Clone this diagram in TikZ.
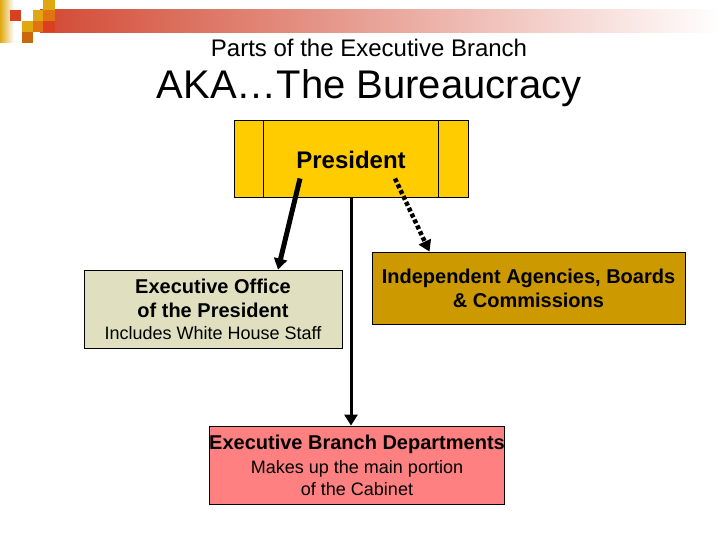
\documentclass[tikz,border=0pt]{standalone}
\usepackage{xcolor}
\usepackage{fontspec}
\setmainfont{Liberation Sans}
\usetikzlibrary{arrows.meta}
\definecolor{presgold}{HTML}{FFCC00}
\definecolor{eopkhaki}{HTML}{E0E0C0}
\definecolor{iabgold}{HTML}{CC9900}
\definecolor{ebdpink}{HTML}{FF8080}
\definecolor{barred}{HTML}{D24A34}
\definecolor{barpink}{HTML}{DC9A98}
\definecolor{sqred}{HTML}{D84020}
\definecolor{sqgold}{HTML}{E0A810}
\definecolor{sqorange}{HTML}{E07410}

\begin{document}
\begin{tikzpicture}[x=1pt,y=-1pt,
  box/.style={draw=black,line width=0.8pt,minimum width=#1,inner sep=0pt,align=center,
    font=\fontsize{20}{24}\selectfont},
  tip/.style={-{Triangle[length=11pt,width=13pt]}}]
\useasboundingbox (0,0) rectangle (720,540);
% header bar and corner squares
\shade[left color=barred,middle color=barpink,right color=white] (40,10) rectangle (720,33);
\shade[left color=sqgold,right color=white] (0,0) rectangle (14,43);
\fill[sqgold] (43,0) rectangle (55,10);
\fill[sqred] (10,10) rectangle (21,21);
\fill[sqgold] (33,10) rectangle (43,21);
\fill[sqorange] (43,10) rectangle (55,21);
\fill[sqgold] (22,21) rectangle (33,32);
\fill[sqorange] (33,21) rectangle (43,32);
\fill[sqred] (43,21) rectangle (55,32);
\fill[sqorange!90!black] (22,32) rectangle (33,43);
% titles
\node (sub) at (369,48) {\fontsize{24}{28}\selectfont Parts of the Executive Branch};
\node (title) at (369,88) {\fontsize{40}{46}\selectfont AKA\ldots The Bureaucracy};
% boxes
\node[box=234pt,minimum height=77pt,fill=presgold] (pres) at (351,158.5) {};
\draw[line width=0.8pt] (263,120) -- (263,197);
\draw[line width=0.8pt] (438,120) -- (438,197);
\node (preslbl) at (351,160) {\fontsize{24}{28}\selectfont\bfseries President};
\node[box=258pt,minimum height=78pt,fill=eopkhaki] (eop) at (213,309)
  {\bfseries Executive Office\\
   \bfseries of the President\\[-2pt]
   {\fontsize{18}{22}\selectfont Includes White House Staff}};
\node[box=313pt,minimum height=72pt,fill=iabgold] (iab) at (528.5,288)
  {\bfseries Independent Agencies, Boards\\
   \bfseries \& Commissions};
\node[box=294pt,minimum height=78pt,fill=ebdpink] (ebd) at (357,465)
  {\bfseries Executive Branch Departments\\
   {\fontsize{18}{22}\selectfont Makes up the main portion}\\[-2pt]
   {\fontsize{18}{22}\selectfont of the Cabinet}};
% connectors
\draw[tip,line width=5pt] ([xshift=-51pt,yshift=-20pt]pres.center) -- ([xshift=65pt]eop.north);
\draw[tip,line width=4.5pt,dash pattern=on 4pt off 2.5pt] ([xshift=44pt,yshift=-20pt]pres.center) -- ([xshift=-99pt]iab.north);
\draw[tip,line width=3pt] (pres.south) -- (pres.south |- ebd.north);
\end{tikzpicture}
\end{document}
